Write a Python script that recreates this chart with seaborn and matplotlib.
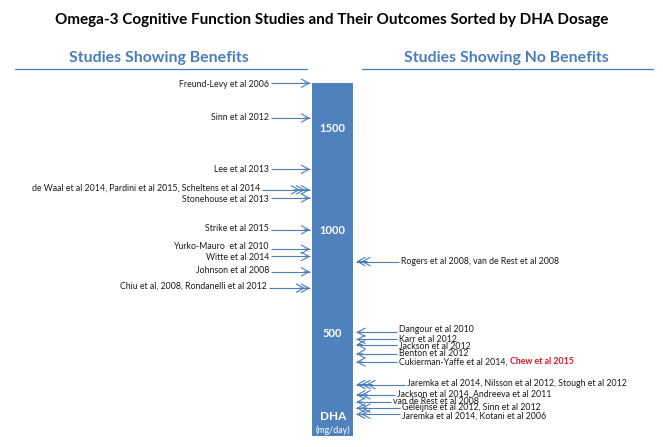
import numpy as np
import pandas as pd
import seaborn as sns
import matplotlib.pyplot as plt

# --------------------------- DATA ---------------------------
benefit_studies = [
    "Freund-Levy et al 2006",
    "Sinn et al 2012",
    "Lee et al 2013",
    "de Waal et al 2014, Pardini et al 2015, Scheltens et al 2014",
    "Stonehouse et al 2013",
    "Strike et al 2015",
    "Yurko-Mauro  et al 2010",
    "Witte et al 2014",
    "Johnson et al 2008",
    "Chiu et al, 2008, Rondanelli et al 2012",
]
benefit_dose = [1720, 1550, 1300, 1200, 1160, 1005, 910, 875, 800, 720]
benefit_count = [1, 1, 1, 3, 1, 1, 1, 1, 1, 2]

no_benefit_studies = [
    "Rogers et al 2008, van de Rest et al 2008",
    "Dangour et al 2010",
    "Karr et al 2012",
    "Jackson et al 2012",
    "Benton et al 2012",
    "Cukierman-Yaffe et al 2014, ",
    "Jaremka et al 2014, Nilsson et al 2012, Stough et al 2012",
    "Jackson et al 2014, Andreeva et al 2011",
    "van de Rest et al 2008",
    "Geleijnse et al 2012, Sinn et al 2012",
    "Jaremka et al 2014, Kotani et al 2006",
]
no_benefit_dose = [850, 505, 470, 445, 400, 360, 250, 200, 165, 135, 105]
no_benefit_count = [2, 1, 1, 1, 1, 1, 3, 2, 1, 2, 2]
highlight_study = "Chew et al 2015"

bar_df = pd.DataFrame({"measure": ["DHA"], "dose": [1720]})
dose_ticks = [500, 1000, 1500]

# --------------------------- STYLE ---------------------------
sns.set_theme(style="white")
plt.rcParams['font.family'] = ['Lato', 'DejaVu Sans']

BAR_BLUE = '#4f81bd'
ARROW_BLUE = '#4a7ebb'
HEAD_BLUE = '#4a7ebb'

# pixel layout helpers (figure is 663 x 447 px, bar centre at x=332.7)
W, H = 663, 447
CX = 332.7
HALF = 20.6
PX_PER_MG = 0.205
Y0 = 435.8  # pixel row of 0 mg


def px_to_mg(py):
    return (Y0 - py) / PX_PER_MG


fig = plt.figure(figsize=(W / 100, H / 100), dpi=100)
ax = fig.add_axes([0, 0, 1, 1])

sns.barplot(data=bar_df, x="measure", y="dose", color=BAR_BLUE,
            width=2 * HALF, errorbar=None, linewidth=0, saturation=1, ax=ax)
ax.set_xlim(-CX, W - CX)
ax.set_ylim(px_to_mg(H), px_to_mg(0))
ax.axis('off')

# labels inside the bar
for t in dose_ticks:
    ax.text(0, t, str(t), color='white', fontsize=8, fontweight='bold',
            ha='center', va='center')
ax.text(0, px_to_mg(416), "DHA", color='white', fontsize=8.5,
        fontweight='bold', ha='center', va='center')
ax.text(0, px_to_mg(430), "(mg/day)", color='white', fontsize=6.4,
        ha='center', va='center')


def arrow(x_from, x_to, y, n_heads, direction):
    # line plus n open arrow heads near the bar
    ax.plot([x_from, x_to], [y, y], color=ARROW_BLUE, lw=0.8,
            solid_capstyle='butt')
    for k in range(n_heads):
        xt = x_to - direction * 5 * k
        ax.annotate("", xy=(xt, y), xytext=(xt - direction * 6, y),
                    arrowprops=dict(arrowstyle='->,head_length=0.55,head_width=0.3',
                                    color=HEAD_BLUE, lw=0.8,
                                    shrinkA=0, shrinkB=0, mutation_scale=10))


# ---------------- left side: studies showing benefits ----------------
left_text_right = [269, 269, 269, 260, 269, 269, 269, 269, 269, 266.7]
left_text_row = [84.3, 117, 170, 187.7, 199.3, 228.3, 246.7, 257.3, 270.7, 286]
for name, dose, n, xr, row in zip(benefit_studies, benefit_dose, benefit_count,
                                  left_text_right, left_text_row):
    ax.text(xr - CX, px_to_mg(row), name, fontsize=6.3, ha='right', va='center',
            color='#1a1a1a')
    arrow(xr - CX + 2, -HALF - 2, dose, n, 1)

# ---------------- right side: studies showing no benefits ----------------
right_text_left = [401, 399, 399, 399, 399, 399, 407, 397, 393, 402, 402]
right_text_row = [262, 330, 339.5, 346.5, 353, 362, 384, 394, 401, 408, 416.5]
for name, dose, n, xl, row in zip(no_benefit_studies, no_benefit_dose,
                                  no_benefit_count, right_text_left, right_text_row):
    t = ax.text(xl - CX, px_to_mg(row), name, fontsize=6.3, ha='left', va='center',
                color='#1a1a1a')
    arrow(xl - CX - 2, HALF + 3, dose, n, -1)
    if name.startswith("Cukierman"):
        ax.annotate(highlight_study, xy=(1, 0.5), xycoords=t,
                    fontsize=6.3, fontweight='bold', color='#e8151b',
                    ha='left', va='center')

# ---------------- titles ----------------
fig.text(0.5, 1 - 20 / H, "Omega-3 Cognitive Function Studies and Their Outcomes Sorted by DHA Dosage",
         ha='center', va='center', fontsize=11, fontweight='bold', color='black')
fig.text(159 / W, 1 - 58 / H, "Studies Showing Benefits", ha='center', va='center',
         fontsize=11.4, fontweight='bold', color='#4a7ebb')
fig.text(506 / W, 1 - 58 / H, "Studies Showing No Benefits", ha='center', va='center',
         fontsize=11.4, fontweight='bold', color='#4a7ebb')
fig.add_artist(plt.Line2D([15 / W, 307 / W], [1 - 68.5 / H] * 2, color='#4a7ebb', lw=0.9))
fig.add_artist(plt.Line2D([362 / W, 653 / W], [1 - 68.5 / H] * 2, color='#4a7ebb', lw=0.9))

fig.savefig("out.png", dpi=100, facecolor='white')
plt.close(fig)
